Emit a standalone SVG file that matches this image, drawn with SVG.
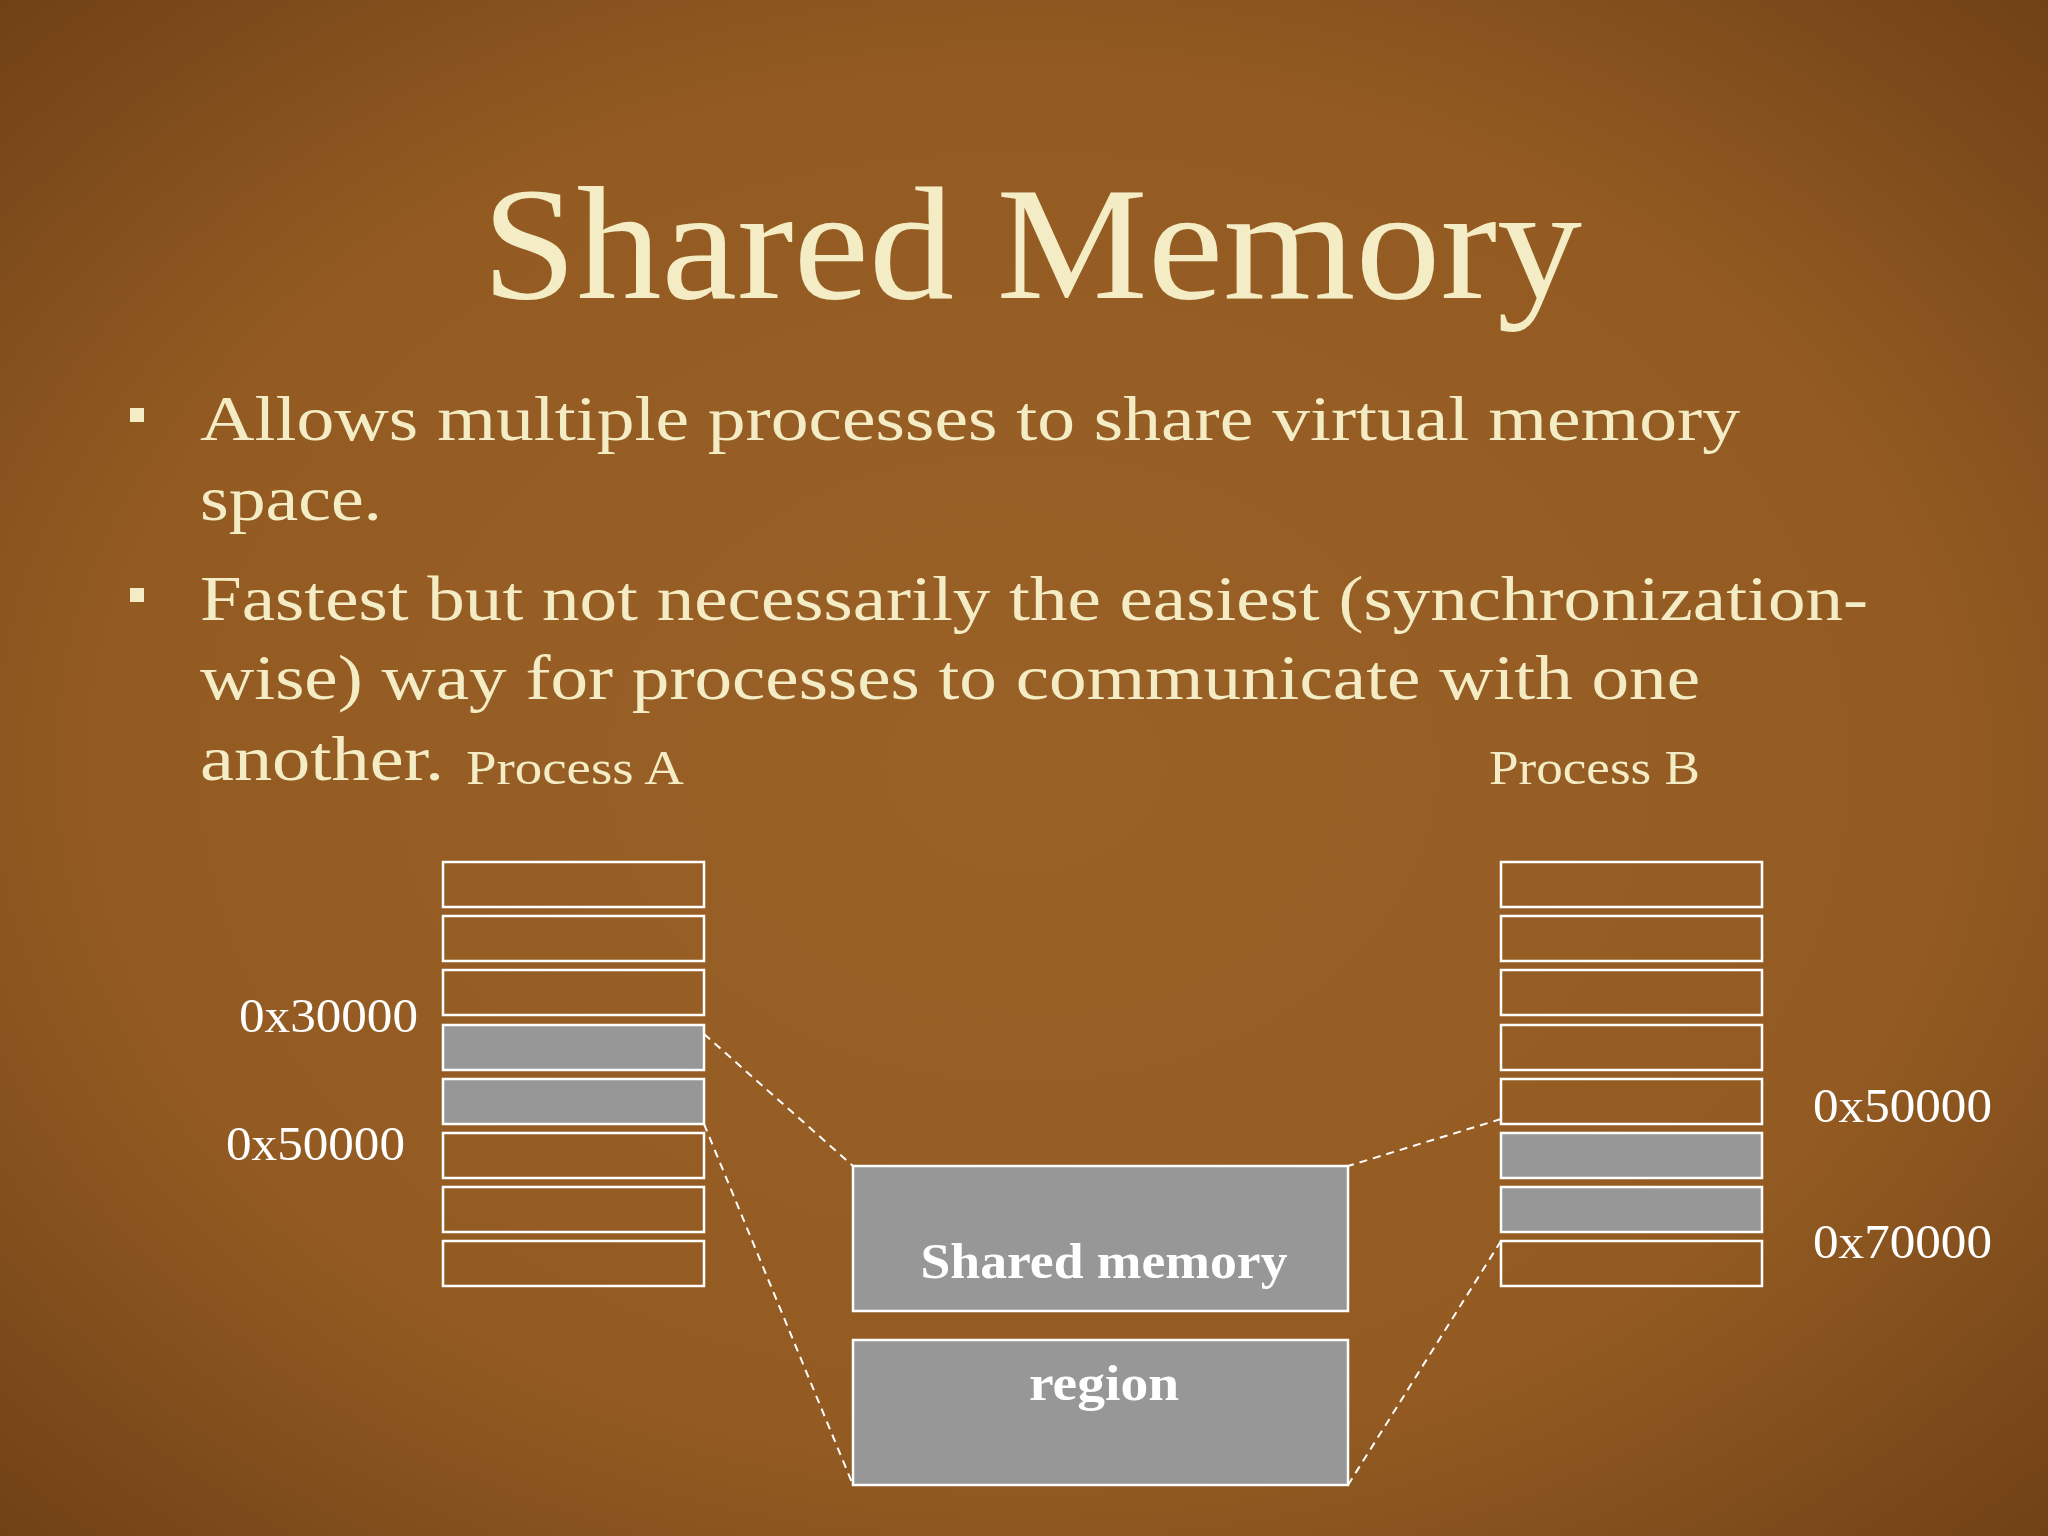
<svg xmlns="http://www.w3.org/2000/svg" width="2048" height="1536" viewBox="0 0 2048 1536">
<defs>
<radialGradient id="bg" cx="0.5" cy="0.5" r="0.75">
<stop offset="0" stop-color="#9A6127"/>
<stop offset="0.6" stop-color="#935B22"/>
<stop offset="1" stop-color="#6A3D14"/>
</radialGradient>
</defs>
<style>
.t{font-family:"Liberation Serif","DejaVu Serif",serif;fill:#F3ECC4}
.b{font-size:64px}
.s{font-size:48px;fill:#FFFFFF}
.cell{fill:none;stroke:#FFFFFF;stroke-width:2.5}
.g{fill:#979797;stroke:#FFFFFF;stroke-width:2.5}
.d{stroke:#FFFFFF;stroke-width:2;stroke-dasharray:8 6;fill:none}
.bl{font-family:"Liberation Serif",serif;font-weight:bold;font-size:51px;fill:#FFFFFF;text-anchor:middle}
</style>
<rect width="2048" height="1536" fill="url(#bg)"/>
<text class="t" x="1032" y="298" font-size="160" text-anchor="middle" textLength="1100" lengthAdjust="spacingAndGlyphs">Shared Memory</text>
<rect x="130" y="408" width="14" height="14" fill="#F3ECC4"/>
<rect x="130" y="588" width="14" height="14" fill="#F3ECC4"/>
<text class="t b" x="200" y="440" textLength="1540" lengthAdjust="spacingAndGlyphs">Allows multiple processes to share virtual memory</text>
<text class="t b" x="200" y="520" textLength="182" lengthAdjust="spacingAndGlyphs">space.</text>
<text class="t b" x="200" y="620" textLength="1668" lengthAdjust="spacingAndGlyphs">Fastest but not necessarily the easiest (synchronization-</text>
<text class="t b" x="200" y="699" textLength="1500" lengthAdjust="spacingAndGlyphs">wise) way for processes to communicate with one</text>
<text class="t b" x="200" y="780" textLength="244" lengthAdjust="spacingAndGlyphs">another.</text>
<text class="t s" x="466" y="784" style="fill:#F3ECC4" textLength="218" lengthAdjust="spacingAndGlyphs">Process A</text>
<text class="t s" x="1489" y="784" style="fill:#F3ECC4" textLength="211" lengthAdjust="spacingAndGlyphs">Process B</text>
<g id="processA">
<rect class="cell" x="443" y="862" width="261" height="45"/>
<rect class="cell" x="443" y="916" width="261" height="45"/>
<rect class="cell" x="443" y="970" width="261" height="45"/>
<rect class="g" x="443" y="1025" width="261" height="45"/>
<rect class="g" x="443" y="1079" width="261" height="45"/>
<rect class="cell" x="443" y="1133" width="261" height="45"/>
<rect class="cell" x="443" y="1187" width="261" height="45"/>
<rect class="cell" x="443" y="1241" width="261" height="45"/>
<text class="t s" x="239" y="1032" textLength="179" lengthAdjust="spacingAndGlyphs">0x30000</text>
<text class="t s" x="226" y="1160" textLength="179" lengthAdjust="spacingAndGlyphs">0x50000</text>
</g>
<g id="processB">
<rect class="cell" x="1501" y="862" width="261" height="45"/>
<rect class="cell" x="1501" y="916" width="261" height="45"/>
<rect class="cell" x="1501" y="970" width="261" height="45"/>
<rect class="cell" x="1501" y="1025" width="261" height="45"/>
<rect class="cell" x="1501" y="1079" width="261" height="45"/>
<rect class="g" x="1501" y="1133" width="261" height="45"/>
<rect class="g" x="1501" y="1187" width="261" height="45"/>
<rect class="cell" x="1501" y="1241" width="261" height="45"/>
<text class="t s" x="1813" y="1122" textLength="179" lengthAdjust="spacingAndGlyphs">0x50000</text>
<text class="t s" x="1813" y="1258" textLength="179" lengthAdjust="spacingAndGlyphs">0x70000</text>
</g>
<g id="shared">
<rect class="g" x="853" y="1166" width="495" height="145"/>
<rect class="g" x="853" y="1340" width="495" height="145"/>
<text class="bl" x="1104" y="1278" textLength="367" lengthAdjust="spacingAndGlyphs">Shared memory</text>
<text class="bl" x="1104" y="1400" textLength="150" lengthAdjust="spacingAndGlyphs">region</text>
</g>
<g id="connectors">
<line class="d" x1="704" y1="1034" x2="853" y2="1166"/>
<line class="d" x1="704" y1="1124" x2="853" y2="1485"/>
<line class="d" x1="1501" y1="1119" x2="1348" y2="1166"/>
<line class="d" x1="1501" y1="1241" x2="1348" y2="1485"/>
</g>
</svg>
